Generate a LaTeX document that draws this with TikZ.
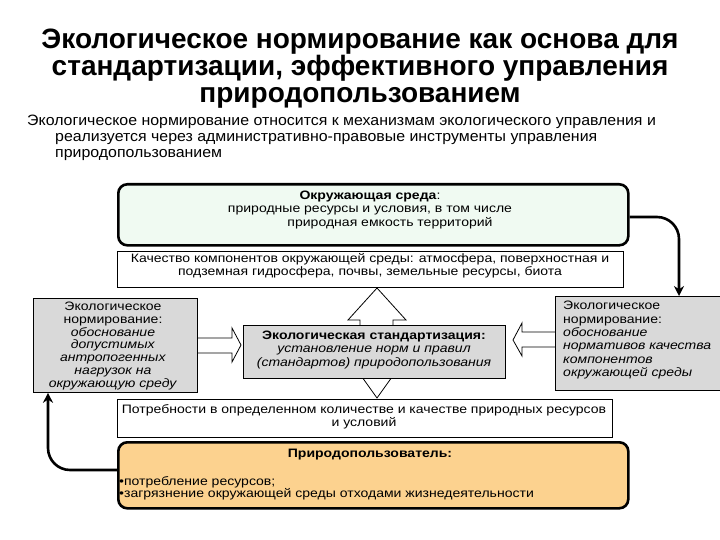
\documentclass[tikz,border=0pt]{standalone}
\usepackage{fontspec}
\setmainfont{Liberation Sans}
\newfontfamily\boxfont[FakeStretch=1.15]{Liberation Sans}
\newfontfamily\subfont[FakeStretch=1.06]{Liberation Sans}
\usetikzlibrary{arrows.meta,calc}
\definecolor{greenfill}{RGB}{240,250,242}
\definecolor{grayfill}{RGB}{217,217,217}
\definecolor{orangefill}{RGB}{252,210,143}
\tikzset{
  thickbox/.style={draw=black, line width=2.6pt, rounded corners=9pt, inner sep=0pt, anchor=north west},
  thinbox/.style={draw=black, line width=0.8pt, inner sep=0pt, anchor=north west},
  graybox/.style={draw=black, line width=0.8pt, fill=grayfill, inner sep=0pt, anchor=north west},
  txt/.style={inner sep=0pt, font=\boxfont\fontsize{12.2}{13.4}\selectfont},
  conn/.style={line width=2.6pt, rounded corners=22pt, -{Stealth[length=10pt,width=10pt]}},
  blockarrow/.style={draw=black, line width=0.8pt, fill=white}
}
\begin{document}
\begin{tikzpicture}[x=1pt,y=-1pt]
\useasboundingbox (0,0) rectangle (720,540);
% title
\node[inner sep=0pt, anchor=north, align=center, font=\fontsize{28}{27}\selectfont\bfseries] (title) at (360,29)
  {Экологическое нормирование как основа для\\стандартизации, эффективного управления\\природопользованием};
\node[inner sep=0pt, anchor=north west, align=left, font=\subfont\fontsize{15}{16}\selectfont] (sub) at (27,115)
  {Экологическое нормирование относится к механизмам экологического управления и\\
   \hspace*{28pt}реализуется через административно-правовые инструменты управления\\
   \hspace*{28pt}природопользованием};
% boxes
\node[thickbox, fill=greenfill, minimum width=510pt, minimum height=61pt] (env) at (117,183) {};
\node[txt, align=center] (envt) at (370,210) {\textbf{Окружающая среда}:\\природные ресурсы и условия, в том числе\\\hspace*{40pt}природная емкость территорий};
\node[thinbox, fill=white, minimum width=506pt, minimum height=36pt] (qual) at (117,251) {};
\node[txt, align=center] (qualt) at (370,266) {Качество компонентов окружающей среды: атмосфера, поверхностная и\\подземная гидросфера, почвы, земельные ресурсы, биота};
\node[thinbox, fill=white, minimum width=495pt, minimum height=38pt] (need) at (117,399) {};
\node[txt, align=center] (needt) at (364,417) {Потребности в определенном количестве и качестве природных ресурсов\\и условий};
\node[thickbox, fill=orangefill, minimum width=510pt, minimum height=66pt] (user) at (117,441) {};
\node[txt, anchor=north] (usert) at (370,449) {\textbf{Природопользователь:}};
\node[txt, anchor=north west, align=left, font=\boxfont\fontsize{12.2}{12.6}\selectfont] (userb) at (119,476) {\textbullet потребление ресурсов;\\\textbullet загрязнение окружающей среды отходами жизнедеятельности};
% block arrows (behind centre box)
\draw[blockarrow] (360,326) -- (360,320) -- (348,320) -- (377,288) -- (406,320) -- (393,320) -- (393,326);
\draw[blockarrow] (362,377) -- (377,398) -- (392,377);
\draw[blockarrow] (197,338) -- (232,338) -- (232,328) -- (241,345) -- (232,362) -- (232,353) -- (197,353) -- cycle;
\draw[blockarrow] (555,332) -- (522,332) -- (522,323) -- (513,340) -- (522,356) -- (522,347) -- (555,347);
% gray boxes
\node[graybox, minimum width=164pt, minimum height=94pt] (left) at (33,298) {};
\node[txt, align=center, font=\boxfont\fontsize{12.2}{12.7}\selectfont] (leftt) at (113,346) {Экологическое\\нормирование:\\\textit{обоснование}\\\textit{допустимых}\\\textit{антропогенных}\\\textit{нагрузок на}\\\textit{окружающую среду}};
\node[graybox, minimum width=262pt, minimum height=53pt] (std) at (243,325) {};
\node[txt, align=center] (stdt) at (374,350) {\textbf{Экологическая стандартизация:}\\\textit{установление норм и правил}\\\textit{(стандартов) природопользования}};
\node[graybox, minimum width=170pt, minimum height=94pt] (right) at (555,296) {};
\node[txt, anchor=north west, align=left] (rightt) at (563,301) {Экологическое\\нормирование:\\\textit{обоснование}\\\textit{нормативов качества}\\\textit{компонентов}\\\textit{окружающей среды}};
% connectors
\coordinate (rc) at (679,217);
\draw[conn] ($(env.north east)+(0,34)$) -- (rc) -- (rc |- right.north);
\coordinate (lc) at (48,470);
\draw[conn] ($(user.north west)+(0,29)$) -- (lc) -- (lc |- left.south);
\end{tikzpicture}
\end{document}
